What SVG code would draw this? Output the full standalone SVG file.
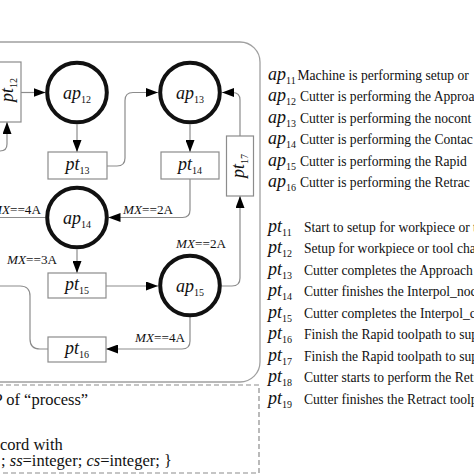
<svg xmlns="http://www.w3.org/2000/svg" width="474" height="474" viewBox="0 0 474 474">
<defs>
<style>
text{font-family:"Liberation Serif","Times New Roman",serif;fill:#111;}
.it{font-style:italic;}
.nl{font-size:18px;font-style:italic;}
.sb{font-size:10px;font-style:normal;}
.el{font-size:13.2px;}
.ds{font-size:13.6px;}
.dn{font-size:16.5px;}
.box{fill:#fff;stroke:#8c8c8c;stroke-width:1.2;}
.pl{fill:#fff;stroke:#111;stroke-width:4;}
.cn{fill:none;stroke:#8c8c8c;stroke-width:1.2;}
.ar{marker-end:url(#ah);}
</style>
<marker id="ah" viewBox="0 0 12 9" refX="12" refY="4.5" markerWidth="12" markerHeight="9" orient="auto" markerUnits="userSpaceOnUse">
<path d="M0,0 L12,4.5 L0,9 z" fill="#000"/>
</marker>
</defs>
<rect width="474" height="474" fill="#fff"/>
<rect id="frame" x="-30" y="42" width="290" height="340" rx="20" ry="20" fill="none" stroke="#a0a0a0" stroke-width="1.3"/>
<rect id="decl" x="-10" y="385" width="269" height="88" fill="none" stroke="#8c8c8c" stroke-width="1.2" stroke-dasharray="5,3"/>

<g id="connectors">
<path class="cn ar" d="M21,92.5 H45.5"/>
<path class="cn ar" d="M-2,151 H0 Q7,151 7,144 V122"/>
<path class="cn ar" d="M77,124.5 V152"/>
<path class="cn ar" d="M107,166 H117 Q125,166 125,158 V100.5 Q125,92.5 133,92.5 H158"/>
<path class="cn ar" d="M190,124.5 V152"/>
<path class="cn ar" d="M240,136 V100 Q240,92.5 232.5,92.5 H222"/>
<path class="cn ar" d="M190,179 V210 Q190,217.5 182.5,217.5 H108.5"/>
<path class="cn" d="M0,217.5 H45.5"/>
<path class="cn ar" d="M77,249.5 V273"/>
<path class="cn ar" d="M106,286 H158"/>
<path class="cn ar" d="M221.5,286 H232 Q240,286 240,278 V196"/>
<path class="cn ar" d="M190,317 V341 Q190,349 182,349 H106"/>
<path class="cn" d="M48,349 H40 Q30,349 30,339 V296 Q30,286 20,286 H0"/>
</g>

<g id="connector-labels">
<text class="el" x="41" y="213.5" text-anchor="end"><tspan class="it">MX</tspan>==4A</text>
<text class="el" x="123" y="213.5"><tspan class="it">MX</tspan>==2A</text>
<text class="el" x="7" y="264"><tspan class="it">MX</tspan>==3A</text>
<text class="el" x="176" y="247.5"><tspan class="it">MX</tspan>==2A</text>
<text class="el" x="135" y="342"><tspan class="it">MX</tspan>==4A</text>
</g>

<g id="pt12">
<rect class="box" x="-7" y="62" width="28" height="60"/>
<text transform="translate(12.5,90) rotate(-90)" text-anchor="middle"><tspan class="nl">pt</tspan><tspan class="sb" dy="4">12</tspan></text>
</g>
<g id="ap12">
<circle class="pl" cx="77" cy="92.5" r="29.8"/>
<text x="77" y="99" text-anchor="middle"><tspan class="nl">ap</tspan><tspan class="sb" dy="4">12</tspan></text>
</g>
<g id="ap13">
<circle class="pl" cx="190" cy="92.5" r="29.8"/>
<text x="190" y="99" text-anchor="middle"><tspan class="nl">ap</tspan><tspan class="sb" dy="4">13</tspan></text>
</g>
<g id="pt13">
<rect class="box" x="48" y="152" width="59" height="27"/>
<text x="77.5" y="170" text-anchor="middle"><tspan class="nl">pt</tspan><tspan class="sb" dy="4">13</tspan></text>
</g>
<g id="pt14">
<rect class="box" x="161" y="152" width="58" height="27"/>
<text x="190" y="170" text-anchor="middle"><tspan class="nl">pt</tspan><tspan class="sb" dy="4">14</tspan></text>
</g>
<g id="pt17">
<rect class="box" x="226.5" y="136" width="27" height="60"/>
<text transform="translate(243.5,166) rotate(-90)" text-anchor="middle"><tspan class="nl">pt</tspan><tspan class="sb" dy="4">17</tspan></text>
</g>
<g id="ap14">
<circle class="pl" cx="77" cy="217.5" r="29.8"/>
<text x="77" y="224" text-anchor="middle"><tspan class="nl">ap</tspan><tspan class="sb" dy="4">14</tspan></text>
</g>
<g id="pt15">
<rect class="box" x="48" y="273" width="58" height="25"/>
<text x="77" y="290" text-anchor="middle"><tspan class="nl">pt</tspan><tspan class="sb" dy="4">15</tspan></text>
</g>
<g id="ap15">
<circle class="pl" cx="190" cy="285.5" r="29.8"/>
<text x="190" y="292" text-anchor="middle"><tspan class="nl">ap</tspan><tspan class="sb" dy="4">15</tspan></text>
</g>
<g id="pt16">
<rect class="box" x="48" y="337" width="58" height="25"/>
<text x="77" y="354" text-anchor="middle"><tspan class="nl">pt</tspan><tspan class="sb" dy="4">16</tspan></text>
</g>

<g id="declaration">
<text class="dn" x="-6.5" y="405">P of “process”</text>
<text class="dn" x="0" y="450">cord with</text>
<text class="dn" x="1" y="466">; <tspan class="it">ss</tspan>=integer; <tspan class="it">cs</tspan>=integer; }</text>
</g>

<g id="legend">
<text x="268" y="79.5"><tspan class="nl">ap</tspan><tspan class="sb" dy="4">11</tspan></text>
<text class="ds" x="297.5" y="79.5">Machine is performing setup or</text>
<text x="268" y="101"><tspan class="nl">ap</tspan><tspan class="sb" dy="4">12</tspan></text>
<text class="ds" x="300" y="101">Cutter is performing the Approa</text>
<text x="268" y="122.5"><tspan class="nl">ap</tspan><tspan class="sb" dy="4">13</tspan></text>
<text class="ds" x="300" y="122.5">Cutter is performing the nocont</text>
<text x="268" y="144"><tspan class="nl">ap</tspan><tspan class="sb" dy="4">14</tspan></text>
<text class="ds" x="300" y="144">Cutter is performing the Contac</text>
<text x="268" y="165.5"><tspan class="nl">ap</tspan><tspan class="sb" dy="4">15</tspan></text>
<text class="ds" x="300" y="165.5">Cutter is performing the Rapid</text>
<text x="268" y="187"><tspan class="nl">ap</tspan><tspan class="sb" dy="4">16</tspan></text>
<text class="ds" x="300" y="187">Cutter is performing the Retrac</text>

<text x="268" y="231.5"><tspan class="nl">pt</tspan><tspan class="sb" dy="4">11</tspan></text>
<text class="ds" x="304" y="231.5">Start to setup for workpiece or t</text>
<text x="268" y="253"><tspan class="nl">pt</tspan><tspan class="sb" dy="4">12</tspan></text>
<text class="ds" x="304" y="253">Setup for workpiece or tool cha</text>
<text x="268" y="274.5"><tspan class="nl">pt</tspan><tspan class="sb" dy="4">13</tspan></text>
<text class="ds" x="304" y="274.5">Cutter completes the Approach</text>
<text x="268" y="296"><tspan class="nl">pt</tspan><tspan class="sb" dy="4">14</tspan></text>
<text class="ds" x="304" y="296">Cutter finishes the Interpol_noc</text>
<text x="268" y="317.5"><tspan class="nl">pt</tspan><tspan class="sb" dy="4">15</tspan></text>
<text class="ds" x="304" y="317.5">Cutter completes the Interpol_c</text>
<text x="268" y="339"><tspan class="nl">pt</tspan><tspan class="sb" dy="4">16</tspan></text>
<text class="ds" x="304" y="339">Finish the Rapid toolpath to sup</text>
<text x="268" y="360.5"><tspan class="nl">pt</tspan><tspan class="sb" dy="4">17</tspan></text>
<text class="ds" x="304" y="360.5">Finish the Rapid toolpath to sup</text>
<text x="268" y="382"><tspan class="nl">pt</tspan><tspan class="sb" dy="4">18</tspan></text>
<text class="ds" x="304" y="382">Cutter starts to perform the Retr</text>
<text x="268" y="403.5"><tspan class="nl">pt</tspan><tspan class="sb" dy="4">19</tspan></text>
<text class="ds" x="304" y="403.5">Cutter finishes the Retract toolp</text>
</g>
</svg>
